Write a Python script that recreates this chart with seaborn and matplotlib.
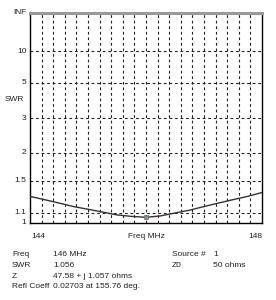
import numpy as np
import pandas as pd
import matplotlib
matplotlib.use("Agg")
import matplotlib.pyplot as plt
import seaborn as sns

sns.set_theme(style="white")
plt.rcParams['font.family'] = ['Liberation Sans', 'DejaVu Sans']

# data
freq_mhz = [144.0, 144.25, 144.5, 144.75, 145.0, 145.25, 145.5, 145.75, 146.0,
            146.25, 146.5, 146.75, 147.0, 147.25, 147.5, 147.75, 148.0]
swr = [1.29, 1.25, 1.21, 1.17, 1.14, 1.11, 1.08, 1.065, 1.056,
       1.07, 1.10, 1.13, 1.17, 1.21, 1.25, 1.29, 1.34]
marker_freq = [146.0]
marker_swr = [1.056]
swr_ticks = [1, 1.1, 1.5, 2, 3, 5, 10]
swr_tick_labels = ["1", "1.1", "1.5", "2", "3", "5", "10"]
x_grid = [144.2 + 0.2 * i for i in range(19)]
info_left = [("Freq", "146 MHz"), ("SWR", "1.056"), ("Z", "47.58 + j 1.057 ohms"),
             ("Refl Coeff", "0.02703 at 155.76 deg.")]
info_right = [("Source #", "1"), ("Z0", "50 ohms")]


def rho(s):
    s = np.asarray(s, dtype=float)
    return (s - 1) / (s + 1)


df = pd.DataFrame({"freq": freq_mhz, "rho": rho(swr)})

W, H = 276, 300
fig = plt.figure(figsize=(W / 100, H / 100), dpi=100)
ax = fig.add_axes([30 / W, 1 - 223 / H, 232 / W, 210 / H])

ax.set_xlim(144, 148)
ax.set_ylim(0, 1)

# grid
for xg in x_grid:
    ax.axvline(xg, color="#222222", lw=0.8, ls=(0, (2.5, 2.5)), zorder=1)
for t in swr_ticks[1:]:
    ax.axhline(float(rho(t)), color="#222222", lw=0.8, ls=(0, (2.5, 2.5)), zorder=1)

sns.lineplot(data=df, x="freq", y="rho", ax=ax, color="#333333", lw=1.0, zorder=3)
ax.scatter(marker_freq, rho(marker_swr), s=6, color="#33cc33", marker="s",
           edgecolors="#cc33cc", linewidths=0.5, zorder=4)

ax.set_xlabel("")
ax.set_ylabel("")
ax.set_xticks([])
ax.set_yticks([])

for side in ["left", "right", "bottom"]:
    ax.spines[side].set_color("black")
    ax.spines[side].set_linewidth(1.0)
ax.spines["top"].set_color("#999999")
ax.spines["top"].set_linewidth(2.2)

fs = 6
# y labels
for t, lab in zip(swr_ticks, swr_tick_labels):
    ax.text(-0.015, float(rho(t)), lab, transform=ax.get_yaxis_transform() if False else
            ax.transAxes if False else ax.get_yaxis_transform(),
            ha="right", va="center", fontsize=fs, color="#222222")
ax.text(-0.015, 1.0, "INF", transform=ax.get_yaxis_transform(),
        ha="right", va="center", fontsize=fs, color="#222222")
fig.text(24 / W, 1 - 100 / H, "SWR", ha="right", va="center", fontsize=fs, color="#222222")

# x labels
ylab = 1 - 237 / H
fig.text(31 / W, ylab, "144", ha="left", va="center", fontsize=fs, color="#222222")
fig.text(262 / W, ylab, "148", ha="right", va="center", fontsize=fs, color="#222222")
fig.text(146 / W, ylab, "Freq MHz", ha="center", va="center", fontsize=fs, color="#222222")

# info block
rows_y = [255, 265.5, 276, 286.5]
for (k, v), yy in zip(info_left, rows_y):
    fig.text(12 / W, 1 - yy / H, k, ha="left", va="center", fontsize=fs, color="#222222")
    fig.text(53 / W, 1 - yy / H, v, ha="left", va="center", fontsize=fs, color="#222222")
for (k, v), yy in zip(info_right, rows_y):
    fig.text(172 / W, 1 - yy / H, k, ha="left", va="center", fontsize=fs, color="#222222")
    fig.text(213 / W, 1 - yy / H, v, ha="left", va="center", fontsize=fs, color="#222222")

fig.savefig("out.png", dpi=100, facecolor="white")
